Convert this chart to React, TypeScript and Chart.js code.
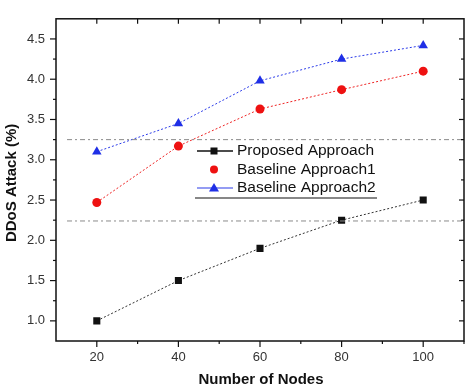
import React, { useEffect, useRef } from 'react';
import { Chart, registerables } from 'chart.js';
Chart.register(...registerables);

const nodes = [20, 40, 60, 80, 100];
const proposed = [1.0, 1.5, 1.9, 2.25, 2.5];
const baseline1 = [2.47, 3.17, 3.63, 3.87, 4.1];
const baseline2 = [3.1, 3.45, 3.98, 4.25, 4.42];
const seriesNames = ['Proposed Approach', 'Baseline Approach1', 'Baseline Approach2'];
const xTicks = [20, 40, 60, 80, 100];
const xMinorTicks = [30, 50, 70, 90, 110];
const xTopTicks = [20, 30, 40, 50, 60, 70, 80, 90, 100];
const yTicks = [1.0, 1.5, 2.0, 2.5, 3.0, 3.5, 4.0, 4.5];
const yMinorTicks = [1.25, 1.75, 2.25, 2.75, 3.25, 3.75, 4.25];
const refLines = [3.25, 2.24];
const refLineRange = [12.7, 110];
const xTitle = 'Number of Nodes';
const yTitle = 'DDoS Attack (%)';

const FONT = '"Liberation Sans", Arial, sans-serif';

const framePlugin = {
  id: 'frame',
  afterDraw(chart: any) {
    const { ctx, chartArea: a, scales } = chart;
    const x = scales.x, y = scales.y;
    ctx.save();
    ctx.strokeStyle = '#111';
    ctx.lineWidth = 1.5;
    ctx.strokeRect(a.left, a.top, a.right - a.left, a.bottom - a.top);
    ctx.lineWidth = 1.2;
    const line = (x1: number, y1: number, x2: number, y2: number) => {
      ctx.beginPath(); ctx.moveTo(x1, y1); ctx.lineTo(x2, y2); ctx.stroke();
    };
    xTicks.forEach(v => { const p = x.getPixelForValue(v); line(p, a.bottom, p, a.bottom + 6); });
    xMinorTicks.forEach(v => { const p = x.getPixelForValue(v); line(p, a.bottom, p, a.bottom + 3); });
    xTopTicks.forEach(v => { const p = x.getPixelForValue(v); line(p, a.top, p, a.top + 5); });
    yTicks.forEach(v => { const p = y.getPixelForValue(v); line(a.left - 6, p, a.left, p); line(a.right - 5, p, a.right, p); });
    yMinorTicks.forEach(v => { const p = y.getPixelForValue(v); line(a.left - 3, p, a.left, p); line(a.right - 3, p, a.right, p); });

    // axis titles
    ctx.fillStyle = '#111';
    ctx.font = `bold 15px ${FONT}`;
    ctx.textAlign = 'center';
    ctx.textBaseline = 'middle';
    ctx.fillText(xTitle, (a.left + a.right) / 2 + 1, 380);
    ctx.save();
    ctx.translate(12, (a.top + a.bottom) / 2 + 3);
    ctx.rotate(-Math.PI / 2);
    ctx.fillText(yTitle, 0, 0);
    ctx.restore();

    // legend
    const lx = 214, tx = 237;
    const rows = [151, 169.5, 188];
    ctx.font = `15.5px ${FONT}`;
    ctx.textAlign = 'left';
    ctx.textBaseline = 'middle';
    ctx.strokeStyle = '#111'; ctx.lineWidth = 1.5;
    line(197, rows[0], 233, rows[0]);
    ctx.fillStyle = '#111';
    ctx.fillRect(lx - 3.5, rows[0] - 3.5, 7, 7);
    ctx.fillStyle = '#ee1111';
    ctx.beginPath(); ctx.arc(lx, rows[1], 4, 0, Math.PI * 2); ctx.fill();
    ctx.strokeStyle = '#2a3ae8'; ctx.lineWidth = 1.2;
    line(197, rows[2], 233, rows[2]);
    ctx.fillStyle = '#1f2fe6';
    ctx.beginPath(); ctx.moveTo(lx, rows[2] - 5); ctx.lineTo(lx + 5, rows[2] + 3.5); ctx.lineTo(lx - 5, rows[2] + 3.5); ctx.closePath(); ctx.fill();
    ctx.fillStyle = '#111';
    seriesNames.forEach((n, i) => ctx.fillText(n, tx, rows[i]));
    ctx.strokeStyle = '#111'; ctx.lineWidth = 1.2;
    line(195, 198, 377, 198);
    ctx.restore();
  },
};

export default function App() {
  const ref = useRef<HTMLCanvasElement>(null);
  useEffect(() => {
    const toPts = (arr: number[]) => arr.map((v, i) => ({ x: nodes[i], y: v }));
    const chart = new Chart(ref.current!, {
      type: 'line',
      data: {
        datasets: [
          ...refLines.map(v => ({
            label: 'ref',
            data: refLineRange.map(xv => ({ x: xv, y: v })),
            borderColor: '#8a8a8a',
            borderWidth: 1,
            borderDash: [5, 3, 2, 3],
            pointRadius: 0,
          })),
          {
            label: seriesNames[0], data: toPts(proposed), borderColor: '#333', borderWidth: 1,
            borderDash: [2, 2], pointStyle: 'rect', pointRadius: 5, pointBackgroundColor: '#111',
            pointBorderColor: '#111', pointBorderWidth: 0,
          },
          {
            label: seriesNames[1], data: toPts(baseline1), borderColor: '#ee2222', borderWidth: 1,
            borderDash: [2, 2], pointStyle: 'circle', pointRadius: 4.5, pointBackgroundColor: '#ee1111',
            pointBorderColor: '#ee1111', pointBorderWidth: 0,
          },
          {
            label: seriesNames[2], data: toPts(baseline2), borderColor: '#2a3ae8', borderWidth: 1,
            borderDash: [2, 2], pointStyle: 'triangle', pointRadius: 5.5, pointBackgroundColor: '#1f2fe6',
            pointBorderColor: '#1f2fe6', pointBorderWidth: 0,
          },
        ] as any,
      },
      options: {
        responsive: false,
        animation: false,
        layout: { padding: { top: 8, right: 10, left: 0, bottom: 0 } },
        plugins: { legend: { display: false }, tooltip: { enabled: false } },
        scales: {
          x: {
            type: 'linear', min: 10, max: 110,
            afterBuildTicks: (s: any) => { s.ticks = xTicks.map(v => ({ value: v })); },
            afterFit: (s: any) => { s.height = 46; },
            grid: { display: false, drawTicks: false },
            border: { display: false },
            ticks: { color: '#333', font: { family: FONT, size: 13 }, padding: 9, maxRotation: 0 },
          },
          y: {
            type: 'linear', min: 0.75, max: 4.75,
            afterBuildTicks: (s: any) => { s.ticks = yTicks.map(v => ({ value: v })); },
            afterFit: (s: any) => { s.width = 56; },
            grid: { display: false, drawTicks: false },
            border: { display: false },
            ticks: { color: '#333', font: { family: FONT, size: 13 }, padding: 11, callback: (v: any) => Number(v).toFixed(1) },
          },
        },
      } as any,
      plugins: [framePlugin],
    });
    return () => chart.destroy();
  }, []);
  return (
    <div style={{ position: 'absolute', left: 0, top: 0, width: 474, height: 387, background: '#fff' }}>
      <canvas ref={ref} width={474} height={387} />
    </div>
  );
}
